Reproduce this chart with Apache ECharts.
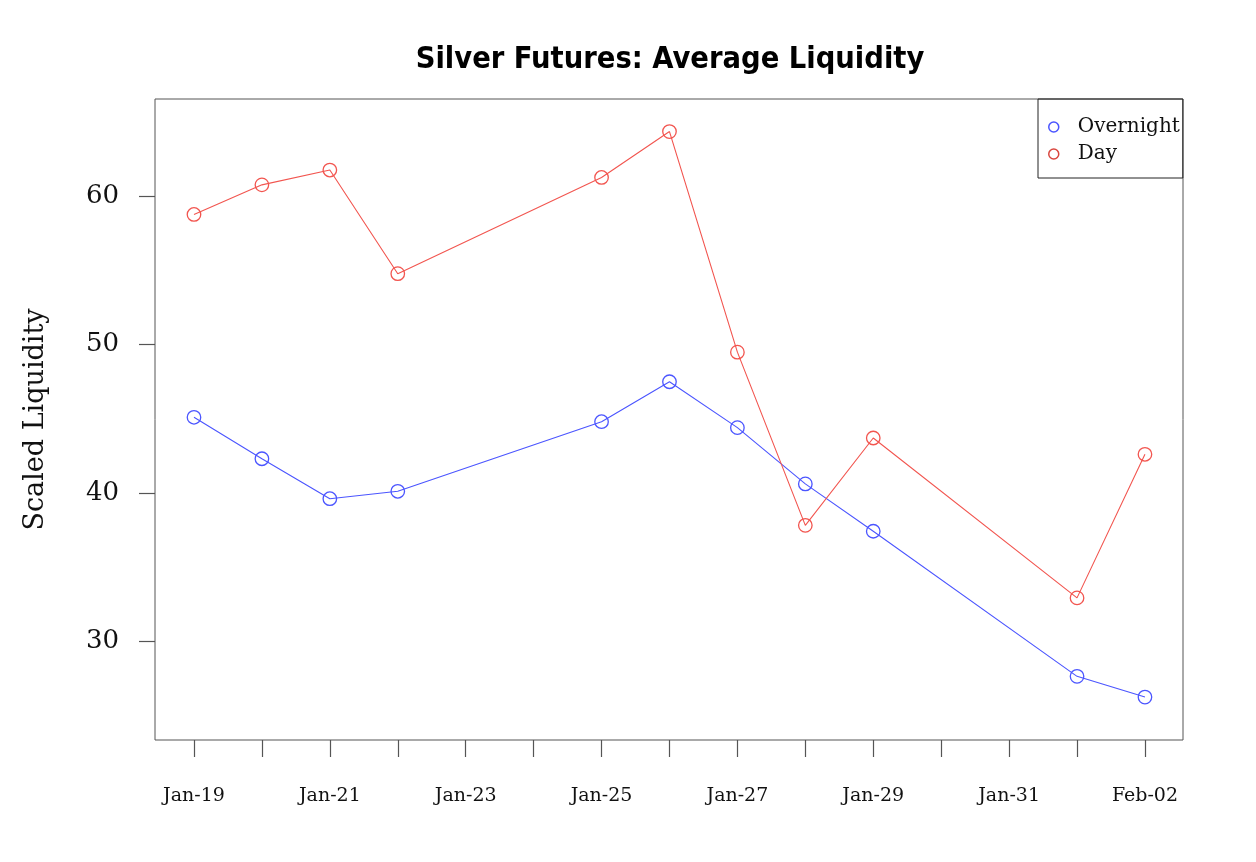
<!DOCTYPE html>
<html>
<head>
<meta charset="utf-8">
<script src="https://cdn.jsdelivr.net/npm/echarts@6/dist/echarts.min.js"></script>
<style>
html,body{margin:0;padding:0;background:#fff;}
#chart{width:1256px;height:862px;}
</style>
</head>
<body>
<div id="chart"></div>
<script>
// Calendar days on the x axis (tick every day, label every other day)
const dayLabels = ['Jan-19','Jan-20','Jan-21','Jan-22','Jan-23','Jan-24','Jan-25','Jan-26','Jan-27','Jan-28','Jan-29','Jan-30','Jan-31','Feb-01','Feb-02'];
// Trading days with observations
const tradeDays = ['Jan-19','Jan-20','Jan-21','Jan-22','Jan-25','Jan-26','Jan-27','Jan-28','Jan-29','Feb-01','Feb-02'];
const overnight = [45.1, 42.3, 39.6, 40.1, 44.8, 47.5, 44.4, 40.6, 37.4, 27.6, 26.2];
const day = [58.8, 60.8, 61.8, 54.8, 61.3, 64.4, 49.5, 37.8, 43.7, 32.9, 42.6];
const yTicks = [30, 40, 50, 60];
const xLabelDays = ['Jan-19','Jan-21','Jan-23','Jan-25','Jan-27','Jan-29','Jan-31','Feb-02'];

const toPts = vals => tradeDays.map((d, i) => [dayLabels.indexOf(d), vals[i]]);
const tickIdx = dayLabels.map((d, i) => i);
const labelIdx = xLabelDays.map(d => dayLabels.indexOf(d));

const serif = 'DejaVu Serif';
const blue = '#4b55ff';
const red = '#f2554f';

const chart = echarts.init(document.getElementById('chart'), null, {renderer: 'canvas'});
chart.setOption({
  animation: false,
  backgroundColor: '#fff',
  title: {
    text: 'Silver Futures: Average Liquidity',
    left: 665, top: 40, textAlign: 'center',
    textStyle: {fontFamily: 'DejaVu Sans Condensed', fontWeight: 'bold', fontSize: 30.5, color: '#000'}
  },
  grid: {left: 155, right: 73, top: 99, bottom: 122, show: true, borderColor: '#555', borderWidth: 1},
  legend: {
    orient: 'vertical', left: 1038, top: 99,
    borderColor: '#222', borderWidth: 1, borderRadius: 0,
    padding: [18, 3, 14, 10],
    itemWidth: 20, itemHeight: 10, itemGap: 7,
    textStyle: {fontFamily: serif, fontSize: 20, color: '#111', lineHeight: 20, padding: [0, 0, 0, 9]},
    data: [
      {name: 'Overnight', icon: 'circle', itemStyle: {color: 'rgba(0,0,0,0)', borderColor: blue, borderWidth: 1.5}},
      {name: 'Day', icon: 'circle', itemStyle: {color: 'rgba(0,0,0,0)', borderColor: '#d9473f', borderWidth: 1.5}}
    ]
  },
  xAxis: {
    type: 'value', min: -0.574, max: 14.56,
    splitLine: {show: false},
    axisLine: {show: false, onZero: false},
    axisTick: {show: true, inside: false, length: 17, customValues: tickIdx, lineStyle: {color: '#555', width: 1.2}},
    axisLabel: {customValues: labelIdx, margin: 47, formatter: v => dayLabels[Math.round(v)], fontFamily: serif, fontSize: 19, color: '#111'}
  },
  yAxis: {
    type: 'value', min: 23.3, max: 66.6,
    name: 'Scaled Liquidity', nameLocation: 'middle', nameGap: 106,
    nameTextStyle: {fontFamily: serif, fontSize: 27, color: '#111'},
    splitLine: {show: false},
    axisLine: {show: false, onZero: false},
    axisTick: {show: true, inside: false, length: 16, customValues: yTicks, lineStyle: {color: '#555', width: 1.2}},
    axisLabel: {customValues: yTicks, margin: 36, fontFamily: serif, fontSize: 26, color: '#111'}
  },
  series: [
    {
      name: 'Overnight', type: 'line', data: toPts(overnight),
      symbol: 'circle', symbolSize: 13.5,
      itemStyle: {color: 'rgba(0,0,0,0)', borderColor: blue, borderWidth: 1.3},
      lineStyle: {color: blue, width: 1.1}
    },
    {
      name: 'Day', type: 'line', data: toPts(day),
      symbol: 'circle', symbolSize: 13.5,
      itemStyle: {color: 'rgba(0,0,0,0)', borderColor: red, borderWidth: 1.3},
      lineStyle: {color: red, width: 1.1}
    }
  ]
});
</script>
</body>
</html>
